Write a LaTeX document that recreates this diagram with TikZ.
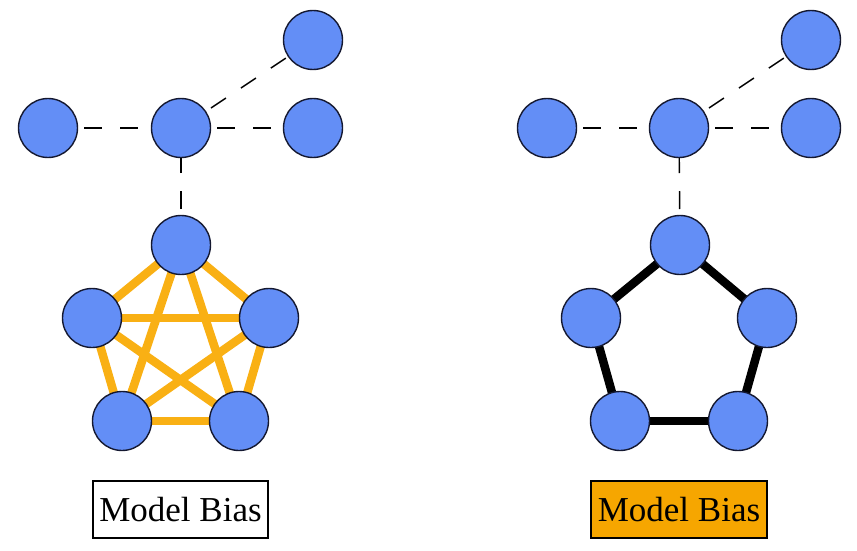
\documentclass[tikz,border=0pt]{standalone}
\usepackage{fontspec}
\newfontfamily\labelfont{Liberation Serif}
\usetikzlibrary{backgrounds}
\definecolor{nodeblue}{RGB}{99,142,246}
\definecolor{nodeline}{RGB}{20,24,48}
\definecolor{edgeorange}{RGB}{249,176,20}
\definecolor{boxorange}{RGB}{246,166,0}
\tikzset{
  vert/.style={circle, draw=nodeline, line width=1.4pt, fill=nodeblue, minimum size=59pt, inner sep=0pt},
  dashlink/.style={line width=1.4pt, dash pattern=on 18pt off 18pt},
  fulllink/.style={line width=8.5pt, edgeorange},
  ringlink/.style={line width=8.5pt, black},
  labelbox/.style={draw=black, line width=1.4pt, minimum width=175pt, minimum height=57pt, inner sep=0pt, font=\labelfont\fontsize{35}{40}\selectfont}
}
\begin{document}
\begin{tikzpicture}[x=1pt, y=-1pt]
\useasboundingbox (0,0) rectangle (857,551);
% ---------- left graph ----------
\node[vert] (al) at (48,128) {};
\node[vert] (ac) at (181,128) {};
\node[vert] (ar) at (313,128) {};
\node[vert] (at) at (313,40) {};
\node[vert] (a1) at (181,245) {};
\node[vert] (a2) at (92,318) {};
\node[vert] (a3) at (269,318) {};
\node[vert] (a4) at (122,421) {};
\node[vert] (a5) at (239,421) {};
% ---------- right graph ----------
\node[vert] (bl) at (547,128) {};
\node[vert] (bc) at (679,128) {};
\node[vert] (br) at (811,128) {};
\node[vert] (bt) at (811,40) {};
\node[vert] (b1) at (680,245) {};
\node[vert] (b2) at (591,318) {};
\node[vert] (b3) at (767,318) {};
\node[vert] (b4) at (620,421) {};
\node[vert] (b5) at (738,421) {};
% ---------- labels ----------
\node[labelbox, fill=white] (la) at (180.5,509.5) {Model Bias};
\node[labelbox, fill=boxorange, minimum width=176pt] (lb) at (679,509.5) {Model Bias};
% ---------- connectors behind nodes ----------
\begin{scope}[on background layer]
  \draw[dashlink] (al.center) -- (ac.center);
  \draw[dashlink] (ac.center) -- (ar.center);
  \draw[dashlink] (ac.center) -- (at.center);
  \draw[dashlink] (a1.center) -- (ac.center);
  \draw[dashlink] (bl.center) -- (bc.center);
  \draw[dashlink] (bc.center) -- (br.center);
  \draw[dashlink] (bc.center) -- (bt.center);
  \draw[dashlink] (b1.center) -- (bc.center);
  \foreach \u/\v in {a1/a2,a1/a3,a1/a4,a1/a5,a2/a3,a2/a4,a2/a5,a3/a4,a3/a5,a4/a5}
    \draw[fulllink] (\u.center) -- (\v.center);
  \foreach \u/\v in {b1/b2,b2/b4,b4/b5,b5/b3,b3/b1}
    \draw[ringlink] (\u.center) -- (\v.center);
\end{scope}
\end{tikzpicture}
\end{document}
